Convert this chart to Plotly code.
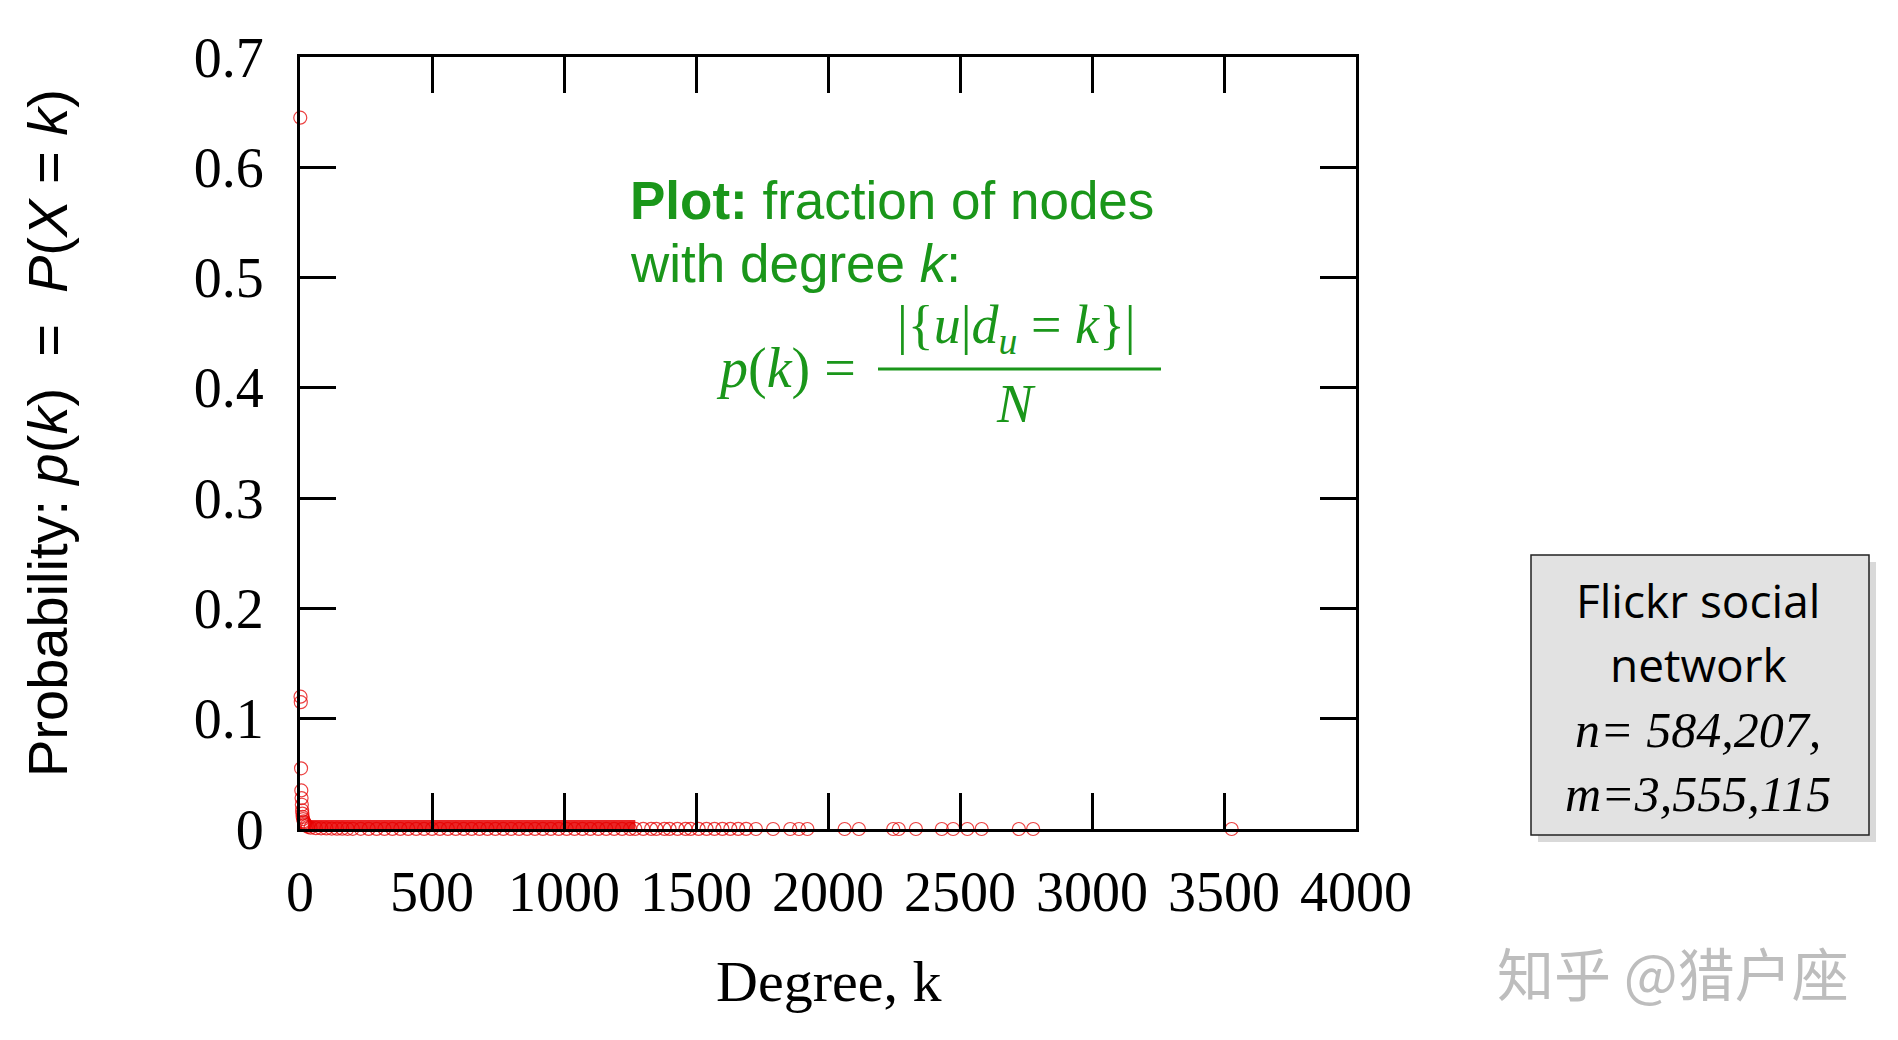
import plotly.graph_objects as go

# degree distribution of the Flickr social network
head_k = [1, 2, 3, 4, 5, 6, 7, 8, 9, 10, 12, 14, 16, 18, 20, 25, 30]
head_p = [0.645, 0.12, 0.115, 0.055, 0.035, 0.028, 0.022, 0.017, 0.014, 0.011,
          0.009, 0.007, 0.006, 0.005, 0.004, 0.003, 0.002]
band_k = [40, 60, 80, 100, 120, 140, 160, 180, 200, 230, 260, 290, 320, 350, 380,
          410, 440, 470, 500, 530, 560, 590, 620, 650, 680, 710, 740, 770, 800,
          830, 860, 890, 920, 950, 980, 1010, 1040, 1070, 1100, 1130, 1160, 1190,
          1220, 1250, 1270, 1300, 1330, 1350, 1380, 1400, 1430, 1460, 1480, 1510,
          1540, 1570, 1600, 1630, 1660, 1690]
band_p = [0.0012, 0.0008, 0.0006, 0.0005, 0.0004, 0.0003, 0.0003, 0.0002, 0.0002,
          0.0002, 0.0001, 0.0001, 0.0001, 0.0001, 0.0001, 0.0001, 0.0001, 0.0001,
          0.0001, 0.0001, 0.0001, 0.0001, 0.0001, 0.0001, 0.0001, 0.0001, 0.0001,
          0.0001, 0.0001, 0.0001, 0.0001, 0.0001, 0.0001, 0.0001, 0.0001, 0.0001,
          0.0001, 0.0001, 0.0001, 0.0001, 0.0001, 0.0001, 0.0001, 0.0001, 0.0001,
          0.0001, 0.0001, 0.0001, 0.0001, 0.0001, 0.0001, 0.0001, 0.0001, 0.0001,
          0.0001, 0.0001, 0.0001, 0.0001, 0.0001, 0.0001]
tail_k = [1727, 1792, 1857, 1890, 1922, 2063, 2117, 2247, 2268, 2333, 2431, 2474,
          2528, 2582, 2723, 2777, 3529]
tail_p = [0.00001] * len(tail_k)

x_ticks = [0, 500, 1000, 1500, 2000, 2500, 3000, 3500, 4000]
y_ticks = [0, 0.1, 0.2, 0.3, 0.4, 0.5, 0.6, 0.7]
y_labels = ["0", "0.1", "0.2", "0.3", "0.4", "0.5", "0.6", "0.7"]

W, H = 1898, 1040
L, R, T, B = 292, 1348, 49, 821


def px(X):
    return (X - L) / (R - L)


def py(Y):
    return (B - Y) / (B - T)


ks = head_k + band_k + tail_k
ps = head_p + band_p + tail_p

fig = go.Figure()
fig.add_trace(go.Scatter(
    x=ks, y=ps, mode="markers",
    marker=dict(symbol="circle-open", size=13, color="rgba(230,0,0,0.75)",
                line=dict(width=1.2)),
    cliponaxis=False, showlegend=False))
# thick dense band at the bottom
fig.add_trace(go.Scatter(
    x=head_k[-1:] + band_k[:45], y=[0] * 46, mode="lines",
    line=dict(color="rgba(230,0,0,0.85)", width=18),
    cliponaxis=False, showlegend=False))

serif = "Liberation Serif"
axis = dict(showline=True, linecolor="black", linewidth=3, mirror="ticks",
            ticks="inside", ticklen=36, tickwidth=3, tickcolor="black",
            showgrid=False, zeroline=False,
            tickfont=dict(family=serif, size=56, color="black"))
fig.update_xaxes(range=[0, 4000], tickvals=x_ticks, ticklabelstandoff=12, **axis)
fig.update_yaxes(range=[0, 0.7], tickvals=y_ticks, ticktext=y_labels,
                 ticklabelstandoff=22, **axis)

green = "#1a961a"
ann = [
    dict(x=px(620), y=py(192), xanchor="left", yanchor="middle",
         text="<b>Plot:</b> fraction of nodes",
         font=dict(family="Liberation Sans", size=53, color=green)),
    dict(x=px(620), y=py(256), xanchor="left", yanchor="middle",
         text="with degree <i>k</i>:",
         font=dict(family="Liberation Sans", size=53, color=green)),
    dict(x=px(850), y=py(360), xanchor="right", yanchor="middle",
         text="<i>p</i>(<i>k</i>) =",
         font=dict(family=serif, size=56, color=green)),
    dict(x=px(1008), y=py(320), xanchor="center", yanchor="middle",
         text="|{<i>u</i>|<i>d<sub>u</sub></i> = <i>k</i>}|",
         font=dict(family=serif, size=54, color=green)),
    dict(x=px(1008), y=py(396), xanchor="center", yanchor="middle",
         text="<i>N</i>", font=dict(family=serif, size=54, color=green)),
    dict(x=px(40), y=py(425), xanchor="center", yanchor="middle", textangle=-90,
         text="Probability: <i>p</i>(<i>k</i>)  =  <i>P</i>(<i>X</i> = <i>k</i>)",
         font=dict(family="Liberation Sans", size=56, color="black")),
    dict(x=px(820), y=py(973), xanchor="center", yanchor="middle",
         text="Degree, k", font=dict(family=serif, size=58, color="black")),
    dict(x=px(1690), y=py(592), xanchor="center", yanchor="middle",
         text="Flickr social", font=dict(family="Open Sans", size=46, color="black")),
    dict(x=px(1690), y=py(656), xanchor="center", yanchor="middle",
         text="network", font=dict(family="Open Sans", size=46, color="black")),
    dict(x=px(1690), y=py(722), xanchor="center", yanchor="middle",
         text="<i>n= 584,207,</i>", font=dict(family=serif, size=50, color="black")),
    dict(x=px(1690), y=py(786), xanchor="center", yanchor="middle",
         text="<i>m=3,555,115</i>", font=dict(family=serif, size=50, color="black")),
    dict(x=px(1665), y=py(963), xanchor="center", yanchor="middle",
         text="知乎 @猎户座",
         font=dict(family="Noto Sans CJK SC", size=57, color="#bdbdbd")),
]
for a in ann:
    a.update(xref="paper", yref="paper", showarrow=False)

shapes = [
    # fraction bar
    dict(type="line", xref="paper", yref="paper", x0=px(870), x1=px(1153),
         y0=py(361), y1=py(361), line=dict(color=green, width=3)),
    # shadow and info box
    dict(type="rect", xref="paper", yref="paper", x0=px(1530), x1=px(1868),
         y0=py(554), y1=py(834), fillcolor="rgba(0,0,0,0.15)", line=dict(width=0),
         layer="below"),
    dict(type="rect", xref="paper", yref="paper", x0=px(1523), x1=px(1861),
         y0=py(547), y1=py(827), fillcolor="#e2e2e2",
         line=dict(color="#222222", width=1.5), layer="below"),
]

fig.update_layout(width=W, height=H, margin=dict(l=L, r=W - R, t=T, b=H - B),
                  plot_bgcolor="white", paper_bgcolor="white",
                  annotations=ann, shapes=shapes)
fig.write_html("out.html")
